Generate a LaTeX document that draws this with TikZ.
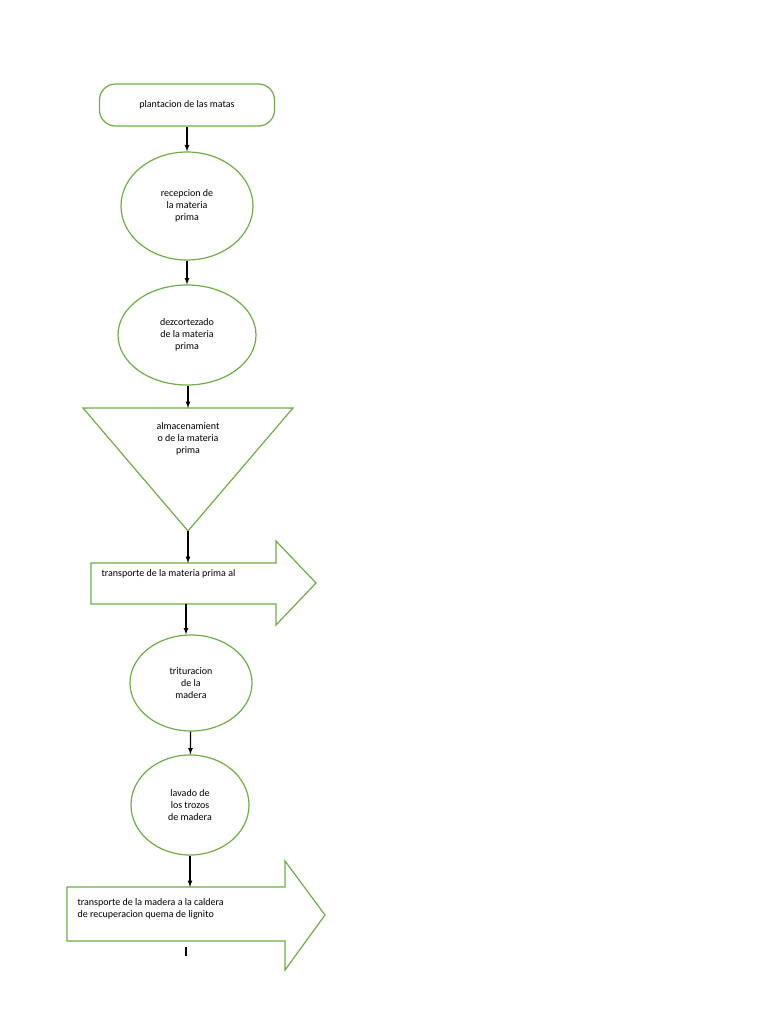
\documentclass[tikz,border=0pt]{standalone}
\usepackage{fontspec}
\setmainfont{Carlito}
\usetikzlibrary{shapes.geometric,shapes.arrows}
\definecolor{boxgreen}{RGB}{112,173,71}
\begin{document}
\begin{tikzpicture}[x=1pt,y=-1pt]
    \tikzset{>=latex}
    \tikzset{stage/.style={draw=boxgreen, line width=1.2pt, align=center, font=\fontsize{10}{12}\selectfont, inner sep=0pt},
             link/.style={->, line width=1.2pt}}
    \useasboundingbox (0,0) rectangle (768,1024);

    \node [stage, rounded corners=16pt, minimum width=175, minimum height=42] (plant) at (187,105) {plantacion de las matas};
    \node [stage, ellipse, minimum width=132, minimum height=108] (recep) at (187,206) {recepcion de\\la materia\\prima};
    \node [stage, ellipse, minimum width=138, minimum height=100] (descor) at (187,335) {dezcortezado\\de la materia\\prima};
    \draw [boxgreen, line width=1.2pt] (83,408) -- (293,408) -- (188,531) -- cycle;
    \coordinate (almtop) at (188,408);
    \coordinate (almbot) at (188,531);
    \node [align=center, font=\fontsize{10}{12}\selectfont] (alm) at (188,439) {almacenamient\\o de la materia\\prima};
    \draw [boxgreen, line width=1.2pt] (91,563) -- (276,563) -- (276,541) -- (316,583) -- (276,625) -- (276,604) -- (91,604) -- cycle;
    \coordinate (tr1top) at (188,563);
    \coordinate (tr1bot) at (186,604);
    \node [anchor=west, font=\fontsize{10}{12}\selectfont] (tr1) at (98,574) {transporte de la materia prima al};
    \node [stage, ellipse, minimum width=122, minimum height=96] (trit) at (191,683) {trituracion\\de la\\madera};
    \node [stage, ellipse, minimum width=118, minimum height=100] (lav) at (190,805) {lavado de\\los trozos\\de madera};
    \draw [boxgreen, line width=1.2pt] (67,887) -- (285,887) -- (285,861) -- (325,915) -- (285,970) -- (285,941) -- (67,941) -- cycle;
    \coordinate (tr2top) at (190,887);
    \coordinate (tr2bot) at (186,947);
    \coordinate (tr2end) at (186,956);
    \node [anchor=west, align=left, font=\fontsize{10}{12}\selectfont] (tr2) at (74,909) {transporte de la madera a la caldera\\de recuperacion quema de lignito};

    \draw [link] (plant) -- (recep);
    \draw [link] (recep) -- (descor);
    \draw [link] (descor.south -| almtop) -- (almtop);
    \draw [link] (almbot) -- (tr1top);
    \draw [link] (tr1bot) -- (trit.north -| tr1bot);
    \draw [link] (trit) -- (lav);
    \draw [link] (lav) -- (tr2top);
    \draw [line width=1.2pt] (tr2bot) -- (tr2end);
\end{tikzpicture}
\end{document}
